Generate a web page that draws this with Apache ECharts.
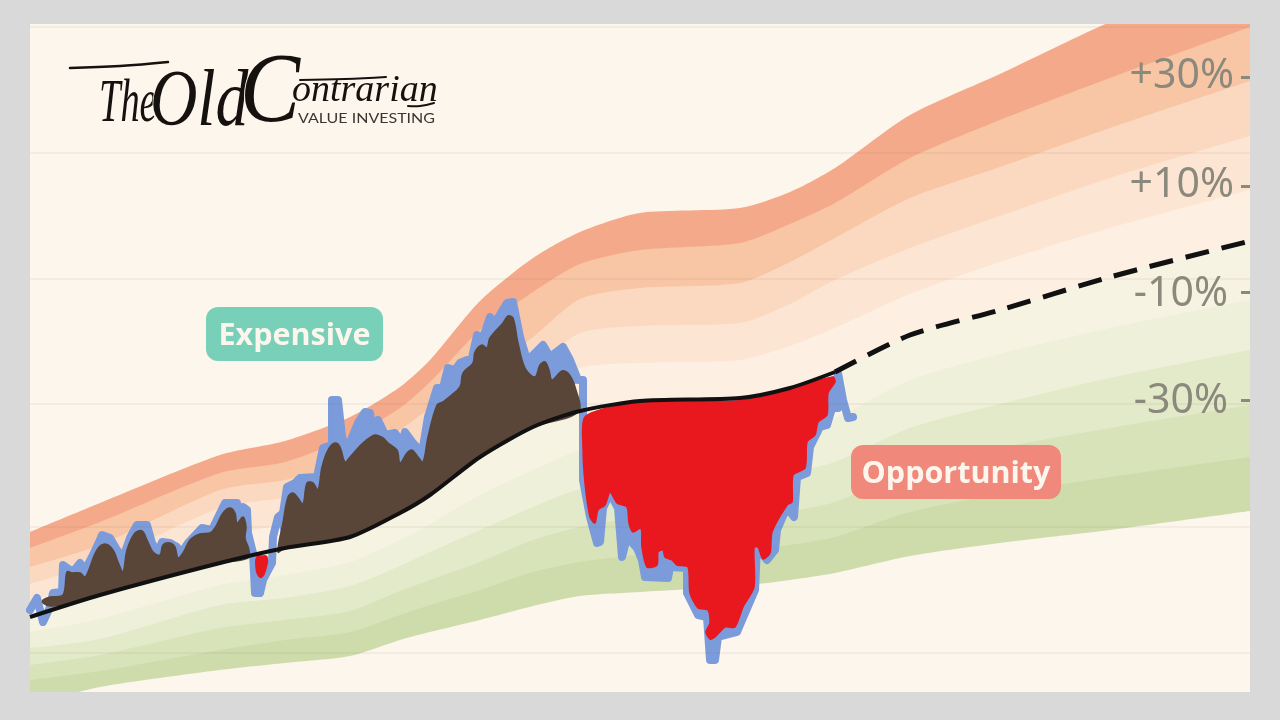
<!DOCTYPE html>
<html>
<head>
<meta charset="utf-8">
<style>html,body{margin:0;padding:0;background:#d9d9d9}#c{width:1280px;height:720px}</style>
<script src="https://cdn.jsdelivr.net/npm/echarts@6/dist/echarts.min.js"></script>
</head>
<body>
<div id="c"></div>
<script>
// Chart scale: the reference has no readable axis units, so horizontal and vertical readings use one reading scale per axis.
const bandX   = [30,100,220,285,350,400,430,480,533,580,640,740,790,835,910,1000,1110,1250];
const upper5  = [532,503,455,441,417,387,360,301,258,232,213,208,192,168,115,74,22,-33];
const upper4  = [548,522,473,462,437,408,382,330,292,264,250,243,224,203,158,120,78,27];
const upper3  = [567,545,490,480,462,430,408,375,337,299,288,283,262,238,198,167,128,81];
const upper2  = [584,562,508,498,488,462,442,405,368,333,326,323,304,280,248,216,178,136];
const upper1  = [601,580,538,524,512,490,470,432,397,368,363,360,346,328,294,262,228,190];
const centre  = [617,595,563,548,537,513,495,457,427,411,401,398,388,372,335,310,277,241];
const lower1  = [632,619,585,575,562,540,524,495,470,450,440,437,430,418,380,354,328,300];
const lower2  = [648,639,605,598,586,566,552,530,507,489,480,478,472,462,428,404,378,350];
const lower3  = [665,655,628,620,611,591,580,562,540,527,518,516,511,502,470,448,428,405];
const lower4  = [680,671,650,640,632,615,605,590,572,562,555,551,545,537,512,494,477,457];
const lower5  = [705,687,670,663,656,640,632,620,606,596,592,586,580,573,556,543,530,511];
const bandColors = ['#f5a98b','#f8c5a5','#fbd9c0','#fce6d3','#fdf0e3','#f6f3e3','#eff0d9','#e2eaca','#d8e3b9','#cedcab','#fdf6ed'];
const gridLevels = [27,153,279,404,527,653];
const tickLabels = ['+30%','+10%','-10%','-30%'];
const labelLevels = [76,185,294,401];
const tickLevels = [77,186,292,400];

const priceX = [30,37,43,50,53,62,63,73,80,85,92,100,102,110,117,123,130,137,147,152,158,162,170,177,180,188,202,212,225,237,240,243,247,248,253,255,260,263,272,273,278,283,287,295,300,317,323,332,332,338,342,347,353,358,365,370,373,378,385,395,402,405,413,422,428,437,443,448,455,460,472,477,483,490,495,507,513,520,527,533,543,550,563,570,578,583,583,590,597,600,603,610,618,622,627,637,642,645,668,670,687,687,698,707,710,715,718,737,755,757,767,775,777,787,794,797,807,810,820,827,832,838,838,843,848,853];
const priceY = [610,598,622,607,593,592,565,572,563,570,557,540,535,538,550,558,538,525,525,543,553,542,543,547,555,543,528,530,503,503,518,507,510,533,553,593,593,580,563,537,517,513,487,483,478,477,448,445,400,400,437,450,435,423,412,413,432,420,435,433,443,432,443,453,417,388,388,368,370,363,358,335,338,317,323,303,302,337,360,355,345,357,347,360,380,380,480,517,543,542,508,493,508,557,537,548,560,577,578,567,568,593,615,617,660,660,637,632,590,547,560,550,530,507,517,477,473,447,427,425,408,408,373,400,418,417];

const brownLeftTopX = [43,50,63,67,72,80,85,88,97,105,113,118,123,127,135,142,147,153,160,163,170,175,178,183,190,200,210,215,223,230,235,237,243,246,245,249,248];
const brownLeftTopY = [600,597,595,572,573,573,577,572,550,544,550,562,572,550,533,531,540,552,555,545,543,547,558,553,540,534,533,528,513,508,513,523,517,527,538,550,558];
const brownLeftBaseX = [220,160,100,67,50,43];
const brownLeftBaseY = [563,579,595,604,606,603];
const brownRightTopX = [278,283,288,293,298,303,307,313,318,322,328,335,340,345,350,363,375,383,388,397,400,407,412,418,423,428,437,443,448,460,463,473,475,482,487,490,503,508,513,518,525,535,540,545,549,552,562,568,575,578];
const brownRightTopY = [552,523,497,493,498,504,483,483,490,467,450,443,447,462,457,443,435,438,443,450,463,453,450,457,462,437,405,402,398,387,373,363,352,345,348,338,323,316,318,343,368,377,365,362,370,380,371,373,387,412];
const brownRightBaseX = [533,480,430,400,350,285];
const brownRightBaseY = [427,457,495,513,537,548];
const dipSmallX = [257,262,267,266,262,258,256];
const dipSmallY = [557,556,557,568,577,575,566];
const dipLargeTopX = [585,620,653,737,783,833];
const dipLargeTopY = [417,405,401,401,390,377];
const dipLargeEdgeX = [835,828,827,818,815,807,805,793,792,787,772,770,763,758,754,754,743,735,725,715,710,706,710,708,698,690,688,677,672,665,663,658,657,647,642,641,633,629,627,617,610,605,598,595,590,585,583];
const dipLargeEdgeY = [382,393,415,422,435,442,468,475,502,505,532,553,559,547,548,587,607,627,627,637,639,632,623,610,608,593,567,565,560,557,550,552,565,567,547,528,532,523,507,503,492,505,510,523,517,483,447];

const pair = (xs, ys) => xs.map((x, i) => [x, ys[i]]);
const priceBetween = (a, b) => pair(priceX, priceY).filter(p => p[0] >= a && p[0] <= b);
const bandRows = [upper5,upper4,upper3,upper2,upper1,centre,lower1,lower2,lower3,lower4,lower5];
const solidEnd = bandX.indexOf(835);
const blue = '#7b9bdb', brown = '#5a4539', red = '#e9181f';

const bandSeries = bandRows.map((row, i) => ({
  type: 'line', z: 2, data: pair(bandX, row), smooth: 0.25, symbol: 'none', silent: true,
  lineStyle: { width: 0 }, areaStyle: { color: bandColors[i], opacity: 1, origin: 'end' }
}));
bandSeries[bandSeries.length - 1].markLine = {
  silent: true, symbol: 'none', animation: false, label: { show: false },
  lineStyle: { color: 'rgba(125,105,75,0.07)', width: 2, type: 'solid' },
  data: gridLevels.map(v => ({ yAxis: v }))
};

const shape = (pts, color, z, smooth) => ({
  type: 'custom', z, data: pts, encode: { x: 0, y: 1 }, silent: true, clip: true,
  renderItem: (p, api) => p.dataIndex !== 0 ? null : ({
    type: 'polygon',
    shape: { points: pts.map(q => api.coord(q)), smooth: smooth },
    style: { fill: color, stroke: color, lineWidth: 1.5, lineJoin: 'round' }
  })
});
const pill = (x, y, text, w, h, bg, fg) => ({
  type: 'custom', z: 9, data: [[x, y]], encode: { x: 0, y: 1 }, silent: true, clip: false,
  renderItem: (p, api) => {
    const c = api.coord([x, y]);
    return { type: 'group', children: [
      { type: 'rect', shape: { x: c[0] - w / 2, y: c[1] - h / 2, width: w, height: h, r: 12 }, style: { fill: bg } },
      { type: 'text', x: c[0], y: c[1] + 2, style: { text, fill: fg, font: '700 30.5px "Open Sans"', textAlign: 'center', textVerticalAlign: 'middle' } }
    ] };
  }
});

const logoFont = 'Liberation Serif';
const logoText = (t, x, y, size, sx, thin) => ({ type: 'text', x, y, scaleX: sx, z: 50,
  style: { text: t, fill: '#15110e', stroke: '#fdf6ed', lineWidth: thin, font: 'italic 400 ' + size + 'px "' + logoFont + '"', textVerticalAlign: 'bottom' } });
const logoStroke = (pts, w) => ({ type: 'polyline', z: 51, shape: { points: pts, smooth: 0.4 }, style: { stroke: '#15110e', fill: null, lineWidth: w, lineCap: 'round' } });

const chart = echarts.init(document.getElementById('c'), null, { renderer: 'canvas' });
chart.setOption({
  animation: false,
  backgroundColor: '#d9d9d9',
  grid: { left: 30, right: 30, top: 24, bottom: 28, show: true, backgroundColor: '#fdf6ed', borderWidth: 0 },
  xAxis: { type: 'value', min: 30, max: 1250, show: false, splitLine: { show: false } },
  yAxis: {
    type: 'value', min: 24, max: 692, inverse: true, position: 'right', z: 9,
    splitLine: { show: false }, axisLine: { show: false },
    axisTick: { show: true, inside: true, length: 9, customValues: tickLevels, lineStyle: { color: '#8b887c', width: 3 } },
    axisLabel: {
      show: true, inside: true, margin: 16, customValues: labelLevels,
      formatter: v => { const i = labelLevels.indexOf(Number(v)); const t = tickLabels[i] || ''; return t.charAt(0) === '-' ? '{m|' + t + '}' : '{p|' + t + '}'; },
      rich: {
        p: { color: '#8b887c', fontFamily: 'Noto Sans', fontSize: 41 },
        m: { color: '#8b887c', fontFamily: 'Noto Sans', fontSize: 41, padding: [0, 6, 0, 0] }
      }
    }
  },
  series: [
    ...bandSeries,
    { type: 'line', z: 3, data: pair(priceX, priceY), symbol: 'none', silent: true, lineStyle: { color: blue, width: 8, join: 'round', cap: 'round' } },
    shape(priceBetween(63, 248).concat(pair(brownLeftBaseX, brownLeftBaseY).slice(0, 3)), blue, 4, 0),
    shape(priceBetween(278, 578).concat(pair(brownRightBaseX, brownRightBaseY)), blue, 4, 0),
    shape(priceBetween(584, 838).concat(pair(dipLargeTopX, dipLargeTopY).reverse()), blue, 4, 0),
    shape(priceBetween(253, 272), blue, 4, 0),
    shape(pair(brownLeftTopX, brownLeftTopY).concat(pair(brownLeftBaseX, brownLeftBaseY)), brown, 6, 0.35),
    shape(pair(brownRightTopX, brownRightTopY).concat(pair(brownRightBaseX, brownRightBaseY)), brown, 6, 0.35),
    shape(pair(dipSmallX, dipSmallY), red, 6, 0.5),
    shape(pair(dipLargeTopX, dipLargeTopY).concat(pair(dipLargeEdgeX, dipLargeEdgeY)), red, 6, 0.25),
    { type: 'line', z: 7, data: pair(bandX.slice(0, solidEnd + 1), centre.slice(0, solidEnd + 1)), smooth: 0.25, symbol: 'none', silent: true, lineStyle: { color: '#111', width: 4 } },
    { type: 'line', z: 7, data: pair(bandX.slice(solidEnd), centre.slice(solidEnd)), smooth: 0.25, symbol: 'none', silent: true, lineStyle: { color: '#111', width: 5, type: [24, 13] } },
    pill(294.5, 334, 'Expensive', 177, 54, '#79d0b9', '#fdf6ed'),
    pill(956, 472, 'Opportunity', 210, 54, '#f1887c', '#fdf6ed')
  ],
  graphic: [
    logoText('The', 99, 136, 62, 0.62, 1),
    logoText('Old', 150, 144, 80, 0.82, 1.6),
    logoText('C', 240, 145, 100, 0.9, 2),
    logoText('ontrarian', 292, 110, 38, 1.0, 0.6),
    logoStroke([[70,68],[120,66],[168,62]], 2.5),
    logoStroke([[300,80],[345,79],[386,77]], 2),
    logoStroke([[408,106],[420,106],[434,103]], 2),
    { type: 'text', x: 298, y: 112, z: 50, scaleX: 1.28, style: { text: 'VALUE INVESTING', fill: '#3a3532', font: '400 12.5px Lato' } }
  ]
});
</script>
</body>
</html>
